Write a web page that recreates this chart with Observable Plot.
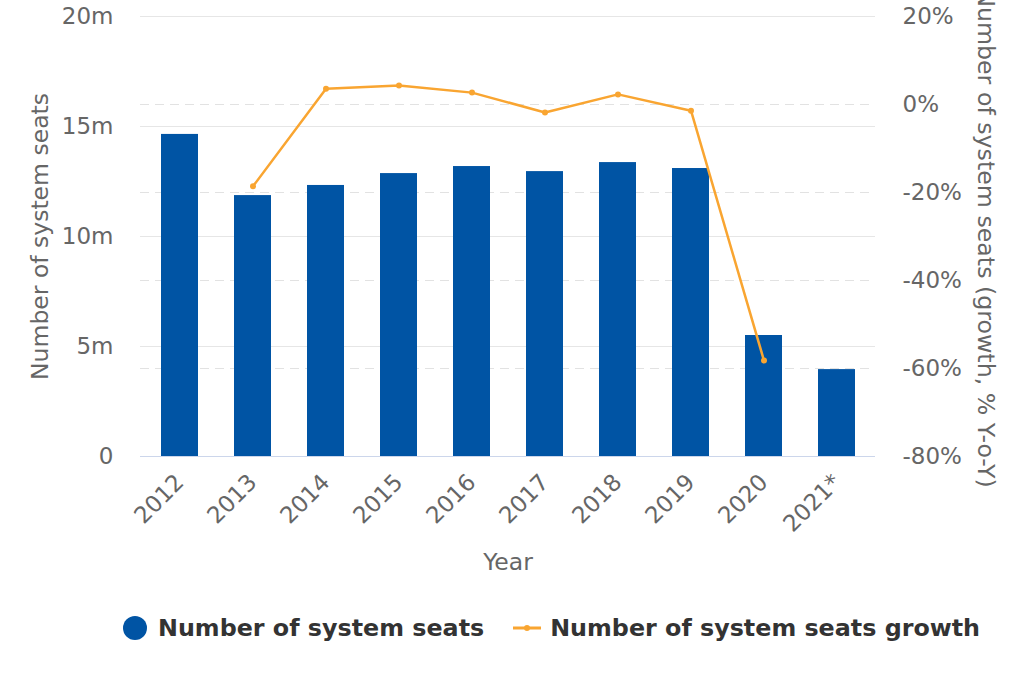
<!DOCTYPE html>
<html><head><meta charset="utf-8">
<script src="https://cdn.jsdelivr.net/npm/d3@7"></script>
<script src="https://cdn.jsdelivr.net/npm/@observablehq/plot@0.6"></script>
<style>
body{margin:0;background:#fff;font-family:"DejaVu Sans";}
#wrap{position:relative;width:1024px;height:683px;overflow:hidden;background:#fff}
#legend{position:absolute;top:614px;left:123px;height:28px;display:flex;align-items:center;font-weight:bold;font-size:23.8px;color:#333;font-family:"DejaVu Sans";white-space:nowrap}
.dot{width:24px;height:24px;border-radius:50%;background:#0054a4;display:inline-block;flex:none}
</style></head><body><div id="wrap"></div>
<script>
const years = ["2012","2013","2014","2015","2016","2017","2018","2019","2020","2021*"];
const seats = [14.64,11.86,12.32,12.86,13.18,12.95,13.36,13.09,5.5,3.95]; // millions
const growthYears = ["2013","2014","2015","2016","2017","2018","2019","2020"];
const growth = [-18.6,3.6,4.3,2.7,-1.8,2.3,-1.4,-58.2]; // % Y-o-Y
const leftTicks = [0,5,10,15,20];
const leftTickLabels = ["0","5m","10m","15m","20m"];
const rightTicks = [-80,-60,-40,-20,0,20];
const rightTickLabels = ["-80%","-60%","-40%","-20%","0%","20%"];

const toLeft = g => (g + 80) / 5; // map growth domain [-80,20] onto seats domain [0,20]
const bars = years.map((y,i)=>({year:y, seats:seats[i]}));
const gr = growthYears.map((y,i)=>({year:y, g:growth[i]}));
const leftMap = new Map(leftTicks.map((t,i)=>[t,leftTickLabels[i]]));
const rightMap = new Map(rightTicks.map((t,i)=>[toLeft(t),rightTickLabels[i]]));

const chart = Plot.plot({
  width:1024, height:600,
  marginLeft:140, marginRight:149, marginTop:16, marginBottom:144,
  style:{fontFamily:"DejaVu Sans", fontSize:"23px", color:"#666666", background:"#fff", overflow:"hidden"},
  x:{domain:years, paddingInner:0.5, paddingOuter:0.25},
  y:{domain:[0,20]},
  marks:[
    Plot.gridY(rightTicks.map(toLeft), {stroke:"#e2e2e2", strokeOpacity:1, strokeDasharray:"9,6"}),
    Plot.gridY(leftTicks, {stroke:"#e6e6e6", strokeOpacity:1}),
    Plot.barY(bars, {x:"year", y:"seats", fill:"#0054a4"}),
    Plot.ruleY([0], {stroke:"#ccd6eb"}),
    Plot.line(gr, {x:"year", y:d=>toLeft(d.g), stroke:"#f9a531", strokeWidth:2.5}),
    Plot.dot(gr, {x:"year", y:d=>toLeft(d.g), r:3, fill:"#f9a531"}),
    Plot.axisY({ticks:leftTicks, tickFormat:d=>leftMap.get(d), tickSize:0, tickPadding:27, label:null}),
    Plot.axisY({anchor:"right", ticks:rightTicks.map(toLeft), tickFormat:d=>rightMap.get(d), tickSize:0, tickPadding:27, label:null}),
    Plot.axisX({tickRotate:-45, tickSize:0, tickPadding:22, label:null}),
    Plot.text(["Year"], {frameAnchor:"bottom", dy:113, fill:"#666666", fontSize:23.5}),
    Plot.text(["Number of system seats"], {frameAnchor:"left", dx:-100, rotate:-90, textAnchor:"middle", fill:"#666666", fontSize:23.5}),
    Plot.text(["Number of system seats (growth, % Y-o-Y)"], {frameAnchor:"right", dx:110, dy:2, rotate:90, textAnchor:"middle", fill:"#666666", fontSize:23.7})
  ]
});
const wrap = document.getElementById("wrap");
wrap.appendChild(chart);
const legend = document.createElement("div");
legend.id = "legend";
legend.innerHTML = `<span class="dot"></span><span style="margin-left:11px">Number of system seats</span>
<svg width="28" height="20" style="margin-left:29px;flex:none"><line x1="0" x2="28" y1="10" y2="10" stroke="#f9a531" stroke-width="3"/><circle cx="14" cy="10" r="3" fill="#f9a531"/></svg>
<span style="margin-left:9px">Number of system seats growth</span>`;
wrap.appendChild(legend);
</script></body></html>
